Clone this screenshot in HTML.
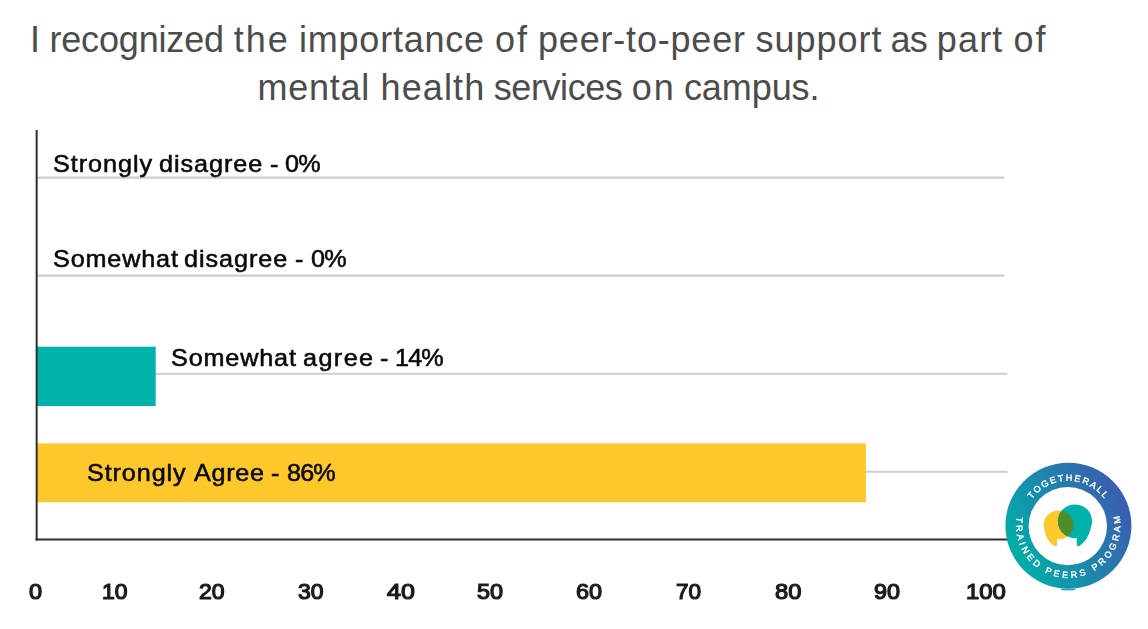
<!DOCTYPE html>
<html>
<head>
<meta charset="utf-8">
<title>Peer-to-peer support chart</title>
<style>
html,body{margin:0;padding:0;background:#fff;}
body{width:1148px;height:629px;position:relative;overflow:hidden;font-family:"Liberation Sans",sans-serif;}
.t{position:absolute;white-space:nowrap;color:#4c4c4c;font-size:36px;line-height:36px;}
.lab{position:absolute;will-change:transform;white-space:nowrap;color:#0a0a0a;font-size:24px;line-height:24px;transform:scaleX(1.05);transform-origin:0 0;-webkit-text-stroke:0.55px #0a0a0a;}
.ax{position:absolute;will-change:transform;white-space:nowrap;color:#1c1c1c;font-size:21.5px;line-height:21.5px;font-weight:normal;-webkit-text-stroke:1.2px #1c1c1c;top:582px;transform-origin:0 0;}
svg{position:absolute;left:0;top:0;}
</style>
</head>
<body>
<div class="t" style="left:30.1px;top:21.8px;letter-spacing:0.0px">I</div>
<div class="t" style="left:49.4px;top:21.8px;letter-spacing:-0.16px">recognized</div>
<div class="t" style="left:233.7px;top:21.8px;letter-spacing:2.0px">the</div>
<div class="t" style="left:299.0px;top:21.8px;letter-spacing:0.78px">importance</div>
<div class="t" style="left:495.05px;top:21.8px;letter-spacing:2.0px">of</div>
<div class="t" style="left:538.0px;top:21.8px;letter-spacing:0.81px">peer-to-peer</div>
<div class="t" style="left:755.4px;top:21.8px;letter-spacing:1.0px">support</div>
<div class="t" style="left:890.5px;top:21.8px;letter-spacing:-0.8px">as</div>
<div class="t" style="left:936.8px;top:21.8px;letter-spacing:1.17px">part</div>
<div class="t" style="left:1013.5px;top:21.8px;letter-spacing:2.0px">of</div>
<div class="t" style="left:257.6px;top:69.7px;letter-spacing:0.72px">mental</div>
<div class="t" style="left:380.5px;top:69.7px;letter-spacing:1.14px">health</div>
<div class="t" style="left:493.7px;top:69.7px;letter-spacing:-0.41px">services</div>
<div class="t" style="left:631.85px;top:69.7px;letter-spacing:2.0px">on</div>
<div class="t" style="left:683.9px;top:69.7px;letter-spacing:-0.07px">campus.</div>

<svg width="1148" height="629" viewBox="0 0 1148 629">
  <!-- gridlines -->
  <g stroke="#cecece" stroke-width="2.1">
    <line x1="37" y1="177.6" x2="1004.5" y2="177.6"/>
    <line x1="37" y1="275.6" x2="1004.5" y2="275.6"/>
    <line x1="37" y1="373.7" x2="1007.5" y2="373.7"/>
    <line x1="37" y1="471.8" x2="1007.5" y2="471.8"/>
  </g>
  <!-- bars -->
  <rect x="37" y="346.7" width="118.7" height="59.4" fill="#01b2ab"/>
  <rect x="37" y="443.4" width="828.9" height="58.9" fill="#fec72c"/>
  <!-- axes -->
  <g stroke="#2e2e2e" stroke-width="2.0">
    <line x1="36.65" y1="129.9" x2="36.65" y2="540.6"/>
    <line x1="35.45" y1="539.4" x2="1008" y2="539.4"/>
  </g>
</svg>

<div class="lab" style="left:52.55px;top:151.8px;letter-spacing:0.9px">Strongly</div>
<div class="lab" style="left:158.95px;top:151.8px;letter-spacing:0.9px">disagree</div>
<div class="lab" style="left:269.55px;top:151.8px;letter-spacing:0.0px">-</div>
<div class="lab" style="left:285.44px;top:151.8px;letter-spacing:-0.8px">0%</div>
<div class="lab" style="left:52.55px;top:247.3px;letter-spacing:0.8px">Somewhat</div>
<div class="lab" style="left:184.45px;top:247.3px;letter-spacing:0.91px">disagree</div>
<div class="lab" style="left:294.85px;top:247.3px;letter-spacing:0.0px">-</div>
<div class="lab" style="left:310.74px;top:247.3px;letter-spacing:-0.8px">0%</div>
<div class="lab" style="left:171.25px;top:346.4px;letter-spacing:0.8px">Somewhat</div>
<div class="lab" style="left:302.85px;top:346.4px;letter-spacing:1.35px">agree</div>
<div class="lab" style="left:379.55px;top:346.4px;letter-spacing:0.0px">-</div>
<div class="lab" style="left:395.22px;top:346.4px;letter-spacing:-0.8px">14%</div>
<div class="lab" style="left:87.05px;top:461.4px;letter-spacing:0.84px">Strongly</div>
<div class="lab" style="left:194.4px;top:461.4px;letter-spacing:0.63px">Agree</div>
<div class="lab" style="left:271.45px;top:461.4px;letter-spacing:0.0px">-</div>
<div class="lab" style="left:287.44px;top:461.4px;letter-spacing:-0.8px">86%</div>

<div class="ax" style="left:29.40px;transform:scaleX(1.092)">0</div>
<div class="ax" style="left:101.53px;transform:scaleX(1.065)">10</div>
<div class="ax" style="left:199.20px;transform:scaleX(1.071)">20</div>
<div class="ax" style="left:298.20px;transform:scaleX(1.067)">30</div>
<div class="ax" style="left:387.00px;transform:scaleX(1.162)">40</div>
<div class="ax" style="left:477.30px;transform:scaleX(1.092)">50</div>
<div class="ax" style="left:576.40px;transform:scaleX(1.088)">60</div>
<div class="ax" style="left:676.40px;transform:scaleX(1.046)">70</div>
<div class="ax" style="left:774.60px;transform:scaleX(1.104)">80</div>
<div class="ax" style="left:874.00px;transform:scaleX(1.088)">90</div>
<div class="ax" style="left:966.39px;transform:scaleX(1.106)">100</div>

<!-- logo -->
<svg style="left:1000px;top:456px;" width="148" height="140" viewBox="1000 456 148 140">
  <defs>
    <linearGradient id="rg" gradientUnits="userSpaceOnUse" x1="1011.6" y1="555.6" x2="1125.2" y2="495.8">
      <stop offset="0" stop-color="#00afa8"/>
      <stop offset="1" stop-color="#3c5bb0"/>
    </linearGradient>
    <clipPath id="tealclip"><use href="#tealshape"/></clipPath>
    <path id="tealshape" d="M1075 504.4 A17.1 16.9 0 0 1 1091.07 527.08 Q1088.3 540 1079.8 545.8 Q1077.3 547 1076.7 544.6 L1076.7 538.12 A17.1 16.9 0 0 1 1057.9 521.3 A17.1 16.9 0 0 1 1075 504.4 Z"/>
    <path id="yelshape" d="M1058.65 510.5 A15 14.3 0 0 1 1073.65 524.8 A15 14.3 0 0 1 1057.1 539.02 L1057.1 544.8 Q1056.6 547 1054.2 546 Q1046.3 541 1044.55 529.69 A15 14.3 0 0 1 1058.65 510.5 Z"/>
  </defs>
  <circle cx="1068.4" cy="525.7" r="63" fill="url(#rg)"/>
  <circle cx="1067.8" cy="526.1" r="39.2" fill="#fff"/>
  <ellipse cx="1068" cy="589.5" rx="7.8" ry="0.9" fill="#1198a9" opacity="0.8"/>
  <use href="#yelshape" fill="#fec72c"/>
  <use href="#tealshape" fill="#01b2ab"/>
  <use href="#yelshape" fill="#4e8d2b" clip-path="url(#tealclip)"/>
  <g font-family="Liberation Sans, sans-serif" font-size="9.0" fill="#fff" stroke="#fff" stroke-width="0.35">
<text transform="translate(1033.43 497.24) rotate(-50.6)" text-anchor="middle">T</text>
<text transform="translate(1039.07 491.50) rotate(-40.3)" text-anchor="middle">O</text>
<text transform="translate(1046.30 486.49) rotate(-29.1)" text-anchor="middle">G</text>
<text transform="translate(1053.89 483.14) rotate(-18.5)" text-anchor="middle">E</text>
<text transform="translate(1061.22 481.34) rotate(-8.9)" text-anchor="middle">T</text>
<text transform="translate(1069.00 480.81) rotate(1.0)" text-anchor="middle">H</text>
<text transform="translate(1077.01 481.67) rotate(11.3)" text-anchor="middle">E</text>
<text transform="translate(1084.73 483.95) rotate(21.5)" text-anchor="middle">R</text>
<text transform="translate(1091.92 487.56) rotate(31.8)" text-anchor="middle">A</text>
<text transform="translate(1097.80 491.90) rotate(41.1)" text-anchor="middle">L</text>
<text transform="translate(1102.57 496.75) rotate(49.8)" text-anchor="middle">L</text>
<text transform="translate(1016.39 519.44) rotate(97.0)" text-anchor="middle">T</text>
<text transform="translate(1016.07 528.51) rotate(87.0)" text-anchor="middle">R</text>
<text transform="translate(1017.38 537.74) rotate(76.8)" text-anchor="middle">A</text>
<text transform="translate(1019.56 544.74) rotate(68.7)" text-anchor="middle">I</text>
<text transform="translate(1022.81 551.59) rotate(60.4)" text-anchor="middle">N</text>
<text transform="translate(1028.13 559.25) rotate(50.1)" text-anchor="middle">E</text>
<text transform="translate(1034.72 565.85) rotate(39.9)" text-anchor="middle">D</text>
<text transform="translate(1047.37 573.66) rotate(23.5)" text-anchor="middle">P</text>
<text transform="translate(1055.98 576.55) rotate(13.5)" text-anchor="middle">E</text>
<text transform="translate(1064.95 577.90) rotate(3.6)" text-anchor="middle">E</text>
<text transform="translate(1074.28 577.65) rotate(-6.7)" text-anchor="middle">R</text>
<text transform="translate(1083.40 575.74) rotate(-16.9)" text-anchor="middle">S</text>
<text transform="translate(1096.66 569.56) rotate(-33.0)" text-anchor="middle">P</text>
<text transform="translate(1103.99 563.80) rotate(-43.3)" text-anchor="middle">R</text>
<text transform="translate(1110.48 556.42) rotate(-54.1)" text-anchor="middle">O</text>
<text transform="translate(1115.57 547.73) rotate(-65.2)" text-anchor="middle">G</text>
<text transform="translate(1118.84 538.47) rotate(-76.0)" text-anchor="middle">R</text>
<text transform="translate(1120.29 529.26) rotate(-86.2)" text-anchor="middle">A</text>
<text transform="translate(1120.01 519.44) rotate(-97.0)" text-anchor="middle">M</text>
  </g>
</svg>
</body>
</html>
